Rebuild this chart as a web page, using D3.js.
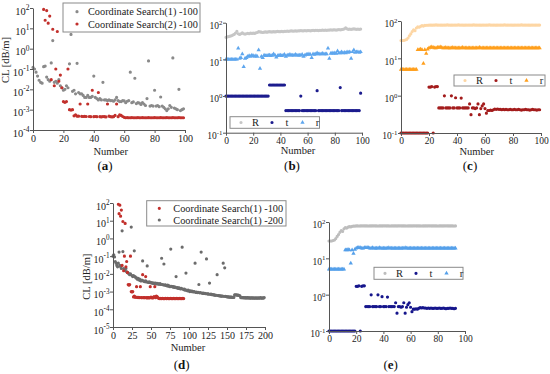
<!DOCTYPE html>
<html>
<head>
<meta charset="utf-8">
<script src="https://cdn.jsdelivr.net/npm/d3@7/dist/d3.min.js"></script>
<style>
  body { margin: 0; background: #fff; }
  svg { font-family: "Liberation Serif", "Times New Roman", serif; }
</style>
</head>
<body>
<svg id="fig" width="550" height="374"></svg>
<script>
// ---- data (index = iteration number) ----

// (a) CL for the two coordinate searches
var aSearch1 = [0.12, 0.1, 0.07, 0.045, 0.028, 0.022, 0.02, 0.13, 0.14, 0.04,
  0.03, 0.025, 0.2, 2.5, 0.022, 0.025, 0.02, 0.03, 0.015, 0.012,
  0.009, 0.01, 0.015, 0.012, 0.18, 5, 0.008, 0.009, 0.006, 0.19,
  0.007, 0.006, 0.006, 0.005, 0.004, 0.004, 0.005, 0.004, 0.004, 0.0045,
  0.045, 0.004, 0.0035, 0.003, 0.0035, 0.003, 0.022, 0.003, 0.003, 0.0028,
  0.003, 0.0028, 0.0028, 0.0026, 0.003, 0.004, 0.0028, 0.0025, 0.0025, 0.0028,
  0.0027, 0.0022, 0.0026, 0.0028, 0.07, 0.0022, 0.0024, 0.035, 0.002, 0.0022,
  0.0021, 0.0018, 0.0022, 0.0019, 0.0016, 0.0035, 0.25, 0.0015, 0.0016, 0.0015,
  0.009, 0.0015, 0.0016, 0.0014, 0.0042, 0.0015, 0.0013, 0.0011, 0.0009, 0.0011,
  0.0016, 0.0013, 0.35, 0.0012, 0.0011, 0.001, 0.01, 0.0009, 0.001, 0.0011];
var aSearch2 = [null, null, null, null, null, null, null, 85, 25, 75,
  18, 40, 0.03, 9, 0.015, 0.1, 7, 0.025, 0.05, 0.012,
  0.0025, 0.0023, 0.0025, 0.1, 0.001, 0.00095, 0.001, 0.0005, 0.00055, 0.00048,
  0.00048, 0.0019, 0.00047, 0.00046, 0.00047, 0.00046, 0.0019, 0.00046, 0.00045, 0.009,
  0.00045, 0.00046, 0.00045, 0.007, 0.00045, 0.00044, 0.00046, 0.00045, 0.00044, 0.0019,
  0.00048, 0.00045, 0.00044, 0.00045, 0.00052, 0.0019, 0.00045, 0.00055, 0.00052, 0.00046,
  0.00042, 0.0004, 0.00041, 0.0004, 0.0004, 0.00041, 0.0004, 0.0004, 0.0004, 0.00041,
  0.0004, 0.0004, 0.00041, 0.0004, 0.0004, 0.0004, 0.00041, 0.0004, 0.0004, 0.0004,
  0.00041, 0.0004, 0.0004, 0.0004, 0.00041, 0.0004, 0.0004, 0.0004, 0.00041, 0.0004,
  0.0004, 0.0004, 0.00041, 0.0004, 0.0004, 0.0004, 0.00041, 0.0004, 0.0004, 0.0004];

// (b) R, t, r of search (1)
var bBigR = [40, 41, 42, 43, 44, 46, 48, 52, 58, 50,
  48, 50, 53, 50, 49, 50, 51, 50, 52, 51,
  52, 51, 53, 54, 57, 56, 55, 54, 55, 56,
  55, 56, 57, 56, 56, 57, 56, 57, 58, 57,
  57, 58, 57, 58, 58, 59, 58, 59, 60, 59,
  59, 60, 59, 60, 60, 61, 60, 60, 61, 60,
  61, 61, 60, 61, 62, 61, 62, 62, 61, 62,
  62, 63, 62, 63, 62, 63, 63, 64, 63, 64,
  64, 63, 64, 65, 64, 65, 66, 68, 72, 68,
  66, 67, 66, 67, 68, 67, 66, 67, 66, 67];
var bT = [1, 1, 1, 1, 1, 1, 1, 1, 1, 1,
  1, 1, 1, 1, 1, 1, 1, 1, 1, 1,
  1, 1, 1, 1, 1, 1, 1, 1, 1, 1,
  1, 1, 2, 2, 2, 2, 2, 2, 2, 2,
  2, 2, 2, 2, 0.4, 0.4, 0.4, 0.4, 0.4, 0.4,
  0.4, 0.4, 0.4, 0.4, 0.4, 1, 0.4, 0.4, 0.4, 0.4,
  0.4, 0.4, 0.4, 0.4, 0.4, 0.4, 0.4, 1.4, 0.4, 0.4,
  0.4, 0.4, 0.4, 0.4, 0.4, 0.4, 0.4, 0.4, 0.4, 0.4,
  0.4, 0.4, 0.4, 0.4, 1.7, 0.4, 0.4, 0.4, 0.4, 0.4,
  0.4, 0.4, 0.4, 0.4, 0.4, 0.4, 0.4, 0.4, 0.4, 1.2];
var bSmallR = [10, 10, 10, 10, 10, 10, 10, 10, 10, 20,
  10.5, 11, 14, 6.3, 10.5, 11, 12, 12.5, 12, 13,
  12.5, 12, 12.5, 12, 18, 5.6, 12, 11, 13, 12.5,
  12.5, 13, 13, 12.5, 13, 14, 13, 11.5, 12.5, 13,
  13, 12.5, 13, 13.5, 12, 13, 13, 13.5, 13, 13,
  13, 13.5, 13, 13, 13, 13, 13.5, 12, 13, 13.5,
  13.5, 14, 13.5, 11, 14, 13.5, 14, 15, 14, 14,
  14, 14.5, 14, 14, 14, 20, 10.5, 14.5, 15, 14.5,
  15, 14.5, 17, 15, 15, 16, 15, 15.5, 15, 16,
  15.5, 16, 10.5, 16, 18, 15.5, 16, 16, 15.5, 16];

// (c) R, t, r of search (2)
var cBigR = [30, 30, 30, 31, 32, 35, 40, 45, 52, 58,
  55, 65, 70, 68, 72, 75, 73, 76, 77, 77,
  78, 78, 77.5, 78, 78, 78.5, 78, 78, 78, 77.5,
  78, 78, 78, 78.5, 78, 78, 77.5, 78, 78, 78,
  78, 78.5, 78, 78, 78, 77.5, 78, 78, 78, 78,
  78, 78, 78.5, 78, 78, 78, 78, 77.5, 78, 78,
  78, 78, 78, 78.5, 78, 78, 78, 78, 77.5, 78,
  78, 78, 78, 78, 78.5, 78, 78, 78, 78, 78,
  77.5, 78, 78, 78, 78, 78, 78.5, 78, 78, 78,
  78, 78, 77.5, 78, 78, 78, 78, 78, 78, 78];
var cT = [0.1, 0.1, 0.1, 0.1, 0.1, 0.1, 0.1, 0.1, 0.1, 0.1,
  0.1, 0.1, 0.1, 0.1, 0.1, 0.1, 0.1, 0.1, 0.1, 0.1,
  1.7, 1.7, 1.75, 0.1, 1.7, 1.75, 1.75, 0.47, 0.47, 0.47,
  0.47, 0.99, 0.47, 0.47, 0.47, 0.47, 0.99, 0.47, 0.47, 0.88,
  0.47, 0.47, 0.47, 0.86, 0.47, 0.47, 0.47, 0.47, 0.47, 0.6,
  0.31, 0.47, 0.47, 0.45, 0.47, 0.6, 0.31, 0.45, 0.53, 0.6,
  0.45, 0.34, 0.4, 0.4, 0.41, 0.4, 0.42, 0.44, 0.43, 0.44,
  0.43, 0.43, 0.42, 0.43, 0.42, 0.43, 0.42, 0.42, 0.43, 0.42,
  0.42, 0.43, 0.42, 0.42, 0.43, 0.42, 0.41, 0.42, 0.42, 0.43,
  0.42, 0.42, 0.41, 0.42, 0.43, 0.42, 0.42, 0.41, 0.42, 0.42];
var cSmallR = [5, 5, 5, 5, 5, 5, 5, 5, 5, 5,
  5, 5, 17, 17, 17.5, 17, 7.3, 17, 13.5, 17.5,
  19, 19.5, 20, 19.5, 19, 19, 19.5, 19.5, 20, 19.5,
  19, 19, 19.5, 19, 19, 19, 19, 19.5, 19, 19,
  19, 19, 19, 19, 19.5, 19, 19, 19, 19, 19,
  19, 19, 19, 19, 19, 19, 19.5, 19, 19, 19,
  19, 19, 19, 19, 19, 19, 19, 19, 19, 19,
  19, 19, 19, 19, 19, 19, 19, 19, 19, 19,
  19, 19, 19, 19, 19, 19, 19, 19, 19, 19,
  19, 19, 19, 19, 19, 19, 19, 19, 19, 19];

// (d) search (1) with 100 and 200 iterations
var dSearch100 = aSearch2.slice(0, 94);
var dSearch200 = [0.1, 0.12, 0.09, 0.05, 0.04, 0.03, 0.025, 0.04, 0.17, 0.03,
  0.025, 0.02, 2.7, 0.18, 0.02, 0.018, 0.015, 0.02, 0.013, 0.012,
  0.011, 0.01, 0.009, 0.01, 4.4, 0.008, 0.007, 0.008, 0.2, 0.007,
  0.006, 0.006, 0.005, 0.0055, 0.0045, 0.005, 0.0042, 0.004, 0.0045, 0.054,
  0.004, 0.0038, 0.0036, 0.004, 0.0035, 0.028, 0.0034, 0.0033, 0.0035, 0.0032,
  0.0032, 0.003, 0.0031, 0.0029, 0.003, 0.0028, 0.003, 0.0027, 0.0029, 0.0027,
  0.0027, 0.0026, 0.0028, 0.0025, 0.076, 0.0025, 0.0024, 0.036, 0.0023, 0.0024,
  0.0022, 0.0021, 0.0023, 0.002, 0.0021, 0.0019, 0.25, 0.002, 0.0019, 0.0018,
  0.0019, 0.0017, 0.0018, 0.007, 0.0016, 0.0017, 0.0015, 0.0016, 0.0015, 0.0014,
  0.0015, 0.32, 0.0014, 0.0013, 0.0014, 0.0012, 0.011, 0.0012, 0.0011, 0.0012,
  0.0011, 0.001, 0.0011, 0.001, 0.00105, 0.001, 0.00095, 0.001, 0.04, 0.0009,
  0.00092, 0.00088, 0.0009, 0.0025, 0.00085, 0.00088, 0.17, 0.00082, 0.0008, 0.00082,
  0.00078, 0.0008, 0.00076, 0.07, 0.00075, 0.00074, 0.00072, 0.003, 0.0007, 0.00071,
  0.00068, 0.00067, 0.00066, 0.00065, 0.00063, 0.00062, 0.00062, 0.009, 0.0006, 0.00059,
  0.00058, 0.00057, 0.00056, 0.00056, 0.00055, 0.04, 0.00054, 0.022, 0.00053, 0.00052,
  0.00051, 0.0005, 0.0005, 0.00049, 0.00049, 0.00048, 0.00048, 0.00047, 0.00047, 0.00047,
  0.00065, 0.00066, 0.00064, 0.00065, 0.00062, 0.00063, 0.0006, 0.00058, 0.00046, 0.00046,
  0.00045, 0.00045, 0.00045, 0.00044, 0.00045, 0.00044, 0.00044, 0.00045, 0.00044, 0.00044,
  0.00044, 0.00043, 0.00044, 0.00044, 0.00043, 0.00044, 0.00043, 0.00043, 0.00044, 0.00043,
  0.00043, 0.00044, 0.00043, 0.00043, 0.00045, 0.00043, 0.00043, 0.00044, 0.00043, 0.00046];

// (e) R, t, r of search (1) -100 (same run as (c), stops at 93)
var eBigR = cBigR.slice(0, 94);
var eT = cT.slice(0, 94);
var eSmallR = cSmallR.slice(0, 94);

// ticks and labels
var xTicks100 = [0, 20, 40, 60, 80, 100];
var xTicks200 = [0, 25, 50, 75, 100, 125, 150, 175, 200];
var yTicksA = [1e2, 1e1, 1e0, 1e-1, 1e-2, 1e-3, 1e-4];
var yTicksD = [1e2, 1e1, 1e0, 1e-1, 1e-2, 1e-3, 1e-4, 1e-5];
var yTicksRtr = [1e2, 1e1, 1e0, 1e-1];
var legendA = ["Coordinate Search(1) -100", "Coordinate Search(2) -100"];
var legendD = ["Coordinate Search(1) -100", "Coordinate Search(1) -200"];
var legendRtr = ["R", "t", "r"];

var RED = "#c2302c", GREY = "#8a8a8a", DGREY = "#6c6c6c";

var panels = [
  { tag: "a", left: 33, right: 185, top: 8, bottom: 130, xMax: 100, yMin: 1e-4,
    xTicks: xTicks100, yTicks: yTicksA, yFont: 10.5, xFont: 10,
    series: [{ data: aSearch1, color: GREY, shape: "circle" }, { data: aSearch2, color: RED, shape: "circle" }],
    legend: { kind: "rows", labels: legendA, x: 63, y: 3, w: 137, h: 29, mx: 14, tx: 25, dy: [8.7, 21] },
    xLabel: [110.7, 154.5], yLabel: [5, 60], tagPos: [105, 170] },
  { tag: "b", left: 226, right: 362, top: 22.7, bottom: 132.7, xMax: 100, yMin: 1e-1,
    xTicks: xTicks100, yTicks: yTicksRtr, yFont: 9.5, xFont: 9.5,
    series: [{ data: bBigR, color: "#c6c6c6", shape: "circle" }, { data: bT, color: "#1c1c8e", shape: "circle" },
             { data: bSmallR, color: "#5ea6ee", shape: "triangle" }],
    legend: { kind: "row", labels: legendRtr, x: 230, y: 116.7, w: 89.5, h: 11.6 },
    xLabel: [298, 154], tagPos: [292, 170] },
  { tag: "c", left: 401, right: 541, top: 21, bottom: 133, xMax: 100, yMin: 1e-1,
    xTicks: xTicks100, yTicks: yTicksRtr, yFont: 9.5, xFont: 9.5,
    series: [{ data: cBigR, color: "#fdd6a4", shape: "circle" }, { data: cT, color: "#a31c1c", shape: "circle" },
             { data: cSmallR, color: "#ff9f1c", shape: "triangle" }],
    legend: { kind: "row", labels: legendRtr, x: 454, y: 75, w: 91, h: 11 },
    xLabel: [476.7, 154.5], tagPos: [470, 170] },
  { tag: "d", left: 113, right: 265, top: 203, bottom: 327, xMax: 200, yMin: 1e-5,
    xTicks: xTicks200, yTicks: yTicksD, yFont: 10, xFont: 10,
    series: [{ data: dSearch200, color: DGREY, shape: "circle" }, { data: dSearch100, color: RED, shape: "circle" }],
    legendSeries: [1, 0],
    legend: { kind: "rows", labels: legendD, x: 146.7, y: 200.7, w: 139.3, h: 25.3, mx: 12.6, tx: 26.6, dy: [7.6, 19.3] },
    xLabel: [188, 350.5], yLabel: [86, 276.7], tagPos: [181.7, 369] },
  { tag: "e", left: 329, right: 465, top: 222, bottom: 331, xMax: 100, yMin: 1e-1,
    xTicks: xTicks100, yTicks: yTicksRtr, yFont: 9.5, xFont: 9.5,
    series: [{ data: eBigR, color: "#bdbdbd", shape: "circle" }, { data: eT, color: "#16168c", shape: "circle" },
             { data: eSmallR, color: "#55a0ea", shape: "triangle" }],
    legend: { kind: "row", labels: legendRtr, x: 374, y: 267.3, w: 89, h: 12 },
    tagPos: [390.7, 369] }
];

var svg = d3.select("#fig");

function symbolPath(shape) {
  return shape === "triangle" ? d3.symbol(d3.symbolTriangle, 8)() : d3.symbol(d3.symbolCircle, 8)();
}

function supLabel(text, exp, fs) {
  text.append("tspan").text("10");
  text.append("tspan").attr("dy", -fs * 0.45).attr("font-size", fs * 0.72).text(exp);
}

panels.forEach(function(p) {
  var x = d3.scaleLinear().domain([0, p.xMax]).range([p.left, p.right]);
  var y = d3.scaleLog().domain([p.yMin, 100]).range([p.bottom, p.top]);
  var g = svg.append("g");

  // points
  p.series.forEach(function(s) {
    var pts = s.data.map(function(v, i) { return { i: i, v: v }; }).filter(function(d) { return d.v != null; });
    g.append("g").selectAll("path").data(pts).join("path")
      .attr("d", symbolPath(s.shape))
      .attr("fill", s.color)
      .attr("transform", function(d) { return "translate(" + x(d.i) + "," + y(d.v) + ")"; });
  });

  // axes
  var xa = g.append("g").attr("transform", "translate(0," + p.bottom + ")")
    .call(d3.axisBottom(x).tickValues(p.xTicks).tickSize(3).tickPadding(1.5).tickSizeOuter(0));
  xa.selectAll("text").attr("font-size", p.xFont).attr("font-family", "Liberation Serif").attr("fill", "#222");
  var ya = g.append("g").attr("transform", "translate(" + p.left + ",0)")
    .call(d3.axisLeft(y).tickValues(p.yTicks).tickSize(3).tickSizeOuter(0).tickFormat(function() { return ""; }));
  ya.selectAll(".tick text").each(function(d) {
    var t = d3.select(this).attr("font-size", p.yFont).attr("font-family", "Liberation Serif")
      .attr("fill", "#222").attr("x", -3.5).attr("dy", "0.6em");
    supLabel(t, String(Math.round(Math.log10(d))), p.yFont);
  });
  [xa, ya].forEach(function(a) {
    a.select(".domain").attr("stroke", "#555");
    a.selectAll(".tick line").attr("stroke", "#555");
  });

  // legend
  var L = p.legend;
  var lg = g.append("g");
  lg.append("rect").attr("x", L.x).attr("y", L.y).attr("width", L.w).attr("height", L.h)
    .attr("fill", "#fff").attr("stroke", "#8a8a8a").attr("stroke-width", 1);
  var order = p.legendSeries || d3.range(L.labels.length);
  L.labels.forEach(function(lab, k) {
    var s = p.series[order[k]];
    var mx, my, tx, anchor, fs;
    if (L.kind === "rows") {
      mx = L.x + L.mx; my = L.y + L.dy[k]; tx = L.x + L.tx; anchor = "start"; fs = 10.3;
    } else {
      mx = L.x + [11, 42, 72.5][k]; my = L.y + L.h / 2; tx = L.x + [25.5, 57, 87.5][k]; anchor = "middle"; fs = 10.5;
    }
    lg.append("path").attr("d", symbolPath(s.shape)).attr("fill", s.color)
      .attr("transform", "translate(" + mx + "," + my + ")");
    lg.append("text").attr("x", tx).attr("y", my).attr("dy", "0.35em").attr("text-anchor", anchor)
      .attr("font-size", fs).attr("fill", "#222").text(lab);
  });

  // titles
  if (p.xLabel) {
    g.append("text").attr("x", p.xLabel[0]).attr("y", p.xLabel[1]).attr("text-anchor", "middle")
      .attr("font-size", 10.5).attr("fill", "#222").text("Number");
  }
  if (p.yLabel) {
    g.append("text").attr("transform", "translate(" + p.yLabel[0] + "," + p.yLabel[1] + ") rotate(-90)")
      .attr("text-anchor", "middle").attr("dy", "0.35em").attr("font-size", 10.5).attr("fill", "#222").text("CL [dB/m]");
  }
  var tg = g.append("text").attr("x", p.tagPos[0]).attr("y", p.tagPos[1]).attr("text-anchor", "middle")
    .attr("font-size", 13).attr("fill", "#111");
  tg.append("tspan").text("(");
  tg.append("tspan").attr("font-weight", "bold").text(p.tag);
  tg.append("tspan").text(")");
});
</script>
</body>
</html>
